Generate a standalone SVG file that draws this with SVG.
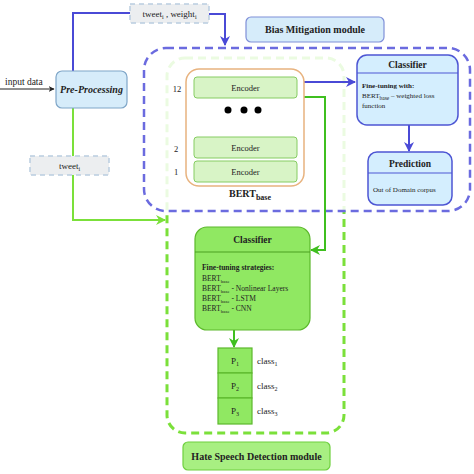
<svg xmlns="http://www.w3.org/2000/svg" width="474" height="474" viewBox="0 0 474 474">
<defs>
<style>
text{font-family:"Liberation Serif","Times New Roman",serif;fill:#222}
.b{font-weight:bold}
.blueln{fill:none;stroke:#4a4ad6;stroke-width:2}
.greenln{fill:none;stroke:#3fbf1f;stroke-width:2}
.limeln{fill:none;stroke:#7be03a;stroke-width:2}
.enc{fill:#d8f4c6;stroke:#86cc62;stroke-width:1}
.gbox{fill:#90e862;stroke:#5cb82c;stroke-width:1.2}
.bbox{fill:#d4eefe;stroke:#4d56d4;stroke-width:1.5}
.note{fill:#eceef0;stroke:#b9cde0;stroke-width:1.5;stroke-dasharray:5 4}
</style>
<marker id="ab" viewBox="0 0 10 10" refX="9" refY="5" markerWidth="5" markerHeight="5" orient="auto"><path d="M0,0 L10,5 L0,10 L3,5 z" fill="#4a4ad6"/></marker>
<marker id="ag" viewBox="0 0 10 10" refX="9" refY="5" markerWidth="5" markerHeight="5" orient="auto"><path d="M0,0 L10,5 L0,10 L3,5 z" fill="#3fbf1f"/></marker>
<marker id="al" viewBox="0 0 10 10" refX="9" refY="5" markerWidth="5" markerHeight="5" orient="auto"><path d="M0,0 L10,5 L0,10 L3,5 z" fill="#7be03a"/></marker>
<marker id="ak" viewBox="0 0 10 10" refX="9" refY="5" markerWidth="5" markerHeight="5" orient="auto"><path d="M0,0 L10,5 L0,10 L3,5 z" fill="#222"/></marker>
</defs>
<rect width="474" height="474" fill="#fff"/>

<!-- module regions -->
<g id="hate-region">
<rect x="167" y="58" width="177" height="375" rx="18" fill="none" stroke="#7be03a" stroke-width="3" stroke-dasharray="8 5"/>
</g>
<g id="bias-region">
<rect x="144" y="48" width="326" height="163" rx="22" fill="#fff" fill-opacity="0.85" stroke="#6b6bdf" stroke-width="2.5" stroke-dasharray="8 5"/>
</g>

<!-- connectors -->
<g id="connectors">
<path class="limeln" d="M73,108 V220 H165" marker-end="url(#al)"/>
<path class="blueln" d="M73,71 V13 H130"/>
<path class="blueln" d="M209,14 H225 V45" marker-end="url(#ab)"/>
<path d="M0,89 H54" fill="none" stroke="#222" stroke-width="1.2" marker-end="url(#ak)"/>
<path class="blueln" d="M304,82 H355" marker-end="url(#ab)"/>
<path class="blueln" d="M409,125 V151" marker-end="url(#ab)"/>
<path class="greenln" d="M304,97 H325 V250 H311" marker-end="url(#ag)"/>
<path class="greenln" d="M234,330 V347" marker-end="url(#ag)"/>
</g>

<g id="input-label"><text x="5" y="85" font-size="9.5">input data</text></g>

<g id="preprocessing">
<rect x="56" y="71" width="71" height="37" rx="6" fill="#d6ecfa" stroke="#7fa6c8" stroke-width="1.2"/>
<text x="91.5" y="93" font-size="10" class="b" font-style="italic" text-anchor="middle">Pre-Processing</text>
</g>

<g id="tweet-weight">
<rect class="note" x="130" y="4" width="79" height="19"/>
<text x="169.5" y="17" font-size="9" text-anchor="middle">tweet<tspan font-size="6" dy="2">i</tspan><tspan dy="-2"> , weight</tspan><tspan font-size="6" dy="2">i</tspan></text>
</g>

<g id="tweet">
<rect class="note" x="30" y="156" width="79" height="19"/>
<text x="69.5" y="169" font-size="9" text-anchor="middle">tweet<tspan font-size="6" dy="2">i</tspan></text>
</g>

<g id="bias-title">
<rect x="246" y="17" width="138" height="25" rx="5" fill="#d6ecfa" stroke="#7f8fd8" stroke-width="1.2"/>
<text x="315" y="33" font-size="10" class="b" text-anchor="middle">Bias Mitigation module</text>
</g>

<g id="bert">
<rect x="186" y="69" width="118" height="117" rx="13" fill="#fff" stroke="#e8b37f" stroke-width="1.5"/>
<rect class="enc" x="194" y="77" width="103" height="21" rx="3"/>
<text x="245.5" y="91" font-size="8.5" text-anchor="middle">Encoder</text>
<circle cx="228" cy="110" r="3.5" fill="#000"/>
<circle cx="244" cy="110" r="3.5" fill="#000"/>
<circle cx="258" cy="110" r="3.5" fill="#000"/>
<rect class="enc" x="194" y="137" width="103" height="21" rx="3"/>
<text x="245.5" y="151" font-size="8.5" text-anchor="middle">Encoder</text>
<rect class="enc" x="194" y="161" width="103" height="21" rx="3"/>
<text x="245.5" y="175" font-size="8.5" text-anchor="middle">Encoder</text>
<text x="177" y="92" font-size="8.5" text-anchor="middle">12</text>
<text x="176" y="152" font-size="8.5" text-anchor="middle">2</text>
<text x="176" y="175" font-size="8.5" text-anchor="middle">1</text>
<text x="250" y="197" font-size="10" class="b" text-anchor="middle">BERT<tspan font-size="8" dy="3">base</tspan></text>
</g>

<g id="bias-classifier">
<rect class="bbox" x="357" y="55" width="101" height="70" rx="10"/>
<line x1="357" y1="73" x2="458" y2="73" stroke="#4d56d4" stroke-width="1.2"/>
<text x="407.5" y="68" font-size="9.5" class="b" text-anchor="middle">Classifier</text>
<text x="362" y="88" font-size="7" class="b">Fine-tuning with:</text>
<text x="362" y="98" font-size="7">BERT<tspan font-size="5.5" dy="2">base</tspan><tspan dy="-2"> – weighted loss</tspan></text>
<text x="362" y="108" font-size="7">function</text>
</g>

<g id="prediction">
<rect class="bbox" x="368" y="152" width="84" height="53" rx="9"/>
<line x1="368" y1="173" x2="452" y2="173" stroke="#4d56d4" stroke-width="1.2"/>
<text x="410" y="167" font-size="9.5" class="b" text-anchor="middle">Prediction</text>
<text x="373" y="192" font-size="7">Out of Domain corpus</text>
</g>

<g id="hate-classifier">
<rect class="gbox" x="195" y="227" width="115" height="103" rx="12"/>
<line x1="195" y1="252" x2="310" y2="252" stroke="#4aa020" stroke-width="1.2"/>
<text x="252.5" y="243" font-size="9.5" class="b" text-anchor="middle">Classifier</text>
<text x="202" y="270" font-size="7.5" class="b">Fine-tuning strategies:</text>
<text x="202" y="281" font-size="7.5">BERT<tspan font-size="5" dy="2">base</tspan></text>
<text x="202" y="291" font-size="7.5">BERT<tspan font-size="5" dy="2">base</tspan><tspan dy="-2"> - Nonlinear Layers</tspan></text>
<text x="202" y="301" font-size="7.5">BERT<tspan font-size="5" dy="2">base</tspan><tspan dy="-2"> - LSTM</tspan></text>
<text x="202" y="311" font-size="7.5">BERT<tspan font-size="5" dy="2">base</tspan><tspan dy="-2"> - CNN</tspan></text>
</g>

<g id="p1">
<rect class="gbox" x="218" y="348" width="34" height="25"/>
<text x="235" y="364" font-size="9" text-anchor="middle">P<tspan font-size="6" dy="2">1</tspan></text>
<text x="257" y="364" font-size="9">class<tspan font-size="6" dy="2">1</tspan></text>
</g>
<g id="p2">
<rect class="gbox" x="218" y="373" width="34" height="25"/>
<text x="235" y="389" font-size="9" text-anchor="middle">P<tspan font-size="6" dy="2">2</tspan></text>
<text x="257" y="389" font-size="9">class<tspan font-size="6" dy="2">2</tspan></text>
</g>
<g id="p3">
<rect class="gbox" x="218" y="398" width="34" height="26"/>
<text x="235" y="414" font-size="9" text-anchor="middle">P<tspan font-size="6" dy="2">3</tspan></text>
<text x="257" y="414" font-size="9">class<tspan font-size="6" dy="2">3</tspan></text>
</g>

<g id="hate-title">
<rect x="183" y="442" width="147" height="28" rx="5" fill="#a8ef82" stroke="#6fd03f" stroke-width="1.2"/>
<text x="256.5" y="460" font-size="10" class="b" text-anchor="middle">Hate Speech Detection module</text>
</g>
</svg>
